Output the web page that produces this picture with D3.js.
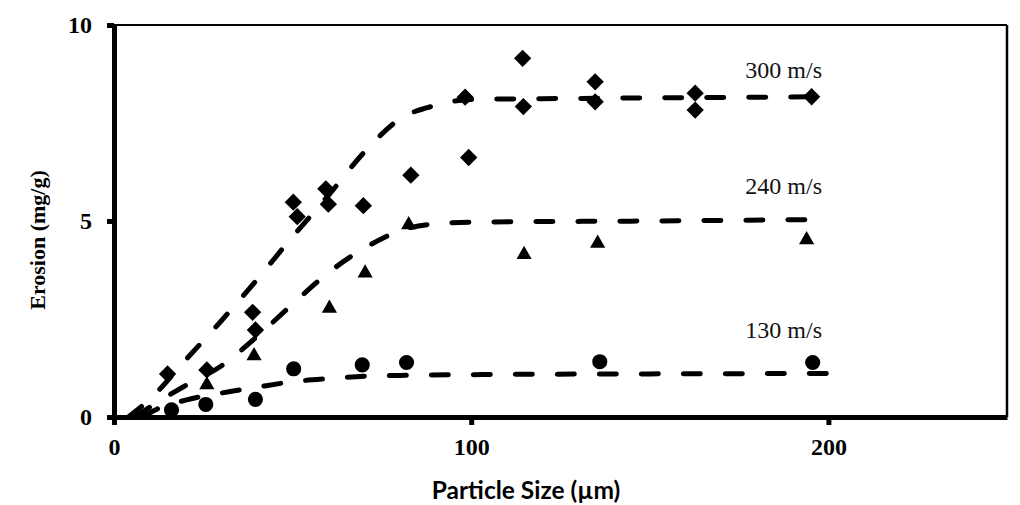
<!doctype html>
<html lang="en">
<head>
<meta charset="utf-8">
<title>Erosion vs particle size</title>
<script src="https://cdnjs.cloudflare.com/ajax/libs/d3/7.8.5/d3.min.js"></script>
<style>
  html, body { margin: 0; padding: 0; background: #fff; }
</style>
</head>
<body>
<div id="viz"></div>
<script>
// DATA - measured points, 300 m/s (diamonds)
var size300 = [15, 26, 38.8, 39.6, 50.2, 51.3, 59.3, 60, 69.8, 83.1, 98.3, 99.3, 114.4, 114.6, 134.7, 134.7, 162.7, 162.7, 195.3];
var erosion300 = [1.1, 1.2, 2.67, 2.22, 5.48, 5.11, 5.82, 5.43, 5.39, 6.17, 8.16, 6.62, 9.15, 7.92, 8.55, 8.04, 8.26, 7.83, 8.17];

// 240 m/s (triangles)
var size240 = [26, 39.2, 60.3, 70.3, 82.5, 114.8, 135.4, 193.9];
var erosion240 = [0.86, 1.6, 2.81, 3.71, 4.94, 4.18, 4.47, 4.56];

// 130 m/s (circles)
var size130 = [16.1, 25.7, 39.6, 50.3, 69.5, 81.9, 136, 195.6];
var erosion130 = [0.18, 0.32, 0.45, 1.23, 1.33, 1.39, 1.41, 1.39];

// dashed trend curves
var fitX300 = [4, 10, 20, 30, 40, 50, 60, 70, 80, 90, 100, 120, 150, 200];
var fitY300 = [0, 0.45, 1.45, 2.45, 3.5, 4.6, 5.65, 6.75, 7.6, 7.95, 8.1, 8.12, 8.14, 8.17];
var fitX240 = [6, 10, 20, 30, 40, 50, 60, 70, 80, 90, 100, 150, 200];
var fitY240 = [0, 0.25, 0.8, 1.3, 2.05, 2.88, 3.68, 4.3, 4.75, 4.93, 4.97, 5.0, 5.04];
var fitX130 = [8, 12, 20, 30, 40, 50, 60, 70, 80, 100, 150, 202];
var fitY130 = [0, 0.2, 0.43, 0.61, 0.76, 0.9, 0.98, 1.04, 1.06, 1.08, 1.1, 1.11];

var speedLabels = ["300 m/s", "240 m/s", "130 m/s"];
var labelY = [8.65, 5.69, 2.02];

var xTicks = [0, 100, 200];
var yTicks = [0, 5, 10];

// Dimensions
var w = 1020, h = 505;
var x = d3.scaleLinear().domain([0, 250]).range([114, 1007]);
var y = d3.scaleLinear().domain([0, 10]).range([417, 25]);
var serif = "'Liberation Serif', 'Times New Roman', serif";

function zip(a, b) { return a.map(function (v, i) { return [v, b[i]]; }); }

var svg = d3.select("#viz").append("svg")
  .attr("width", w)
  .attr("height", h)
  .style("display", "block")
  .style("background", "#fff");

// frame: thin top and right edges
svg.append("line")
  .attr("x1", x(0)).attr("x2", x(250))
  .attr("y1", y(10)).attr("y2", y(10))
  .attr("stroke", "#000").attr("stroke-width", 2);
svg.append("line")
  .attr("x1", x(250)).attr("x2", x(250))
  .attr("y1", y(10)).attr("y2", y(0))
  .attr("stroke", "#000").attr("stroke-width", 2.5);

// AXES
var xAxis = svg.append("g")
  .attr("transform", "translate(0," + y(0) + ")")
  .call(d3.axisBottom(x).tickValues(xTicks).tickSize(8).tickSizeOuter(0).tickPadding(13));
var yAxis = svg.append("g")
  .attr("transform", "translate(" + x(0) + ",0)")
  .call(d3.axisLeft(y).tickValues(yTicks).tickSize(7).tickSizeOuter(0).tickPadding(15));

[xAxis, yAxis].forEach(function (a) {
  a.attr("font-size", null).attr("font-family", null);
  a.select(".domain").attr("stroke", "#000").attr("stroke-width", 5);
  a.selectAll(".tick line").attr("stroke", "#000").attr("stroke-width", 5);
  a.selectAll(".tick text")
    .attr("font-family", serif)
    .attr("font-weight", "bold")
    .attr("font-size", 24)
    .attr("fill", "#000");
});
xAxis.selectAll(".tick text").attr("dy", "0.7em");
yAxis.selectAll(".tick text").attr("dy", "0.33em");

// axis titles
svg.append("text")
  .attr("transform", "translate(45,240) rotate(-90)")
  .attr("text-anchor", "middle")
  .style("font-family", serif)
  .style("font-weight", "bold")
  .style("font-size", "22px")
  .text("Erosion (mg/g)");

svg.append("text")
  .attr("x", 526)
  .attr("y", 499)
  .attr("text-anchor", "middle")
  .style("font-family", "Lato, 'Open Sans', sans-serif")
  .style("font-weight", "bold")
  .style("font-size", "24.5px")
  .text("Particle Size (\u00b5m)");

// DASHED CURVES
var line = d3.line()
  .x(function (d) { return x(d[0]); })
  .y(function (d) { return y(d[1]); })
  .curve(d3.curveMonotoneX);

[zip(fitX300, fitY300), zip(fitX240, fitY240), zip(fitX130, fitY130)].forEach(function (pts) {
  svg.append("path")
    .attr("d", line(pts))
    .attr("fill", "none")
    .attr("stroke", "#000")
    .attr("stroke-width", 5)
    .attr("stroke-linecap", "round")
    .attr("stroke-dasharray", "17,25");
});

// MARKERS
var diamond = d3.symbol().type(d3.symbolSquare).size(150);
var triangle = d3.symbol().type(d3.symbolTriangle).size(100);
var circle = d3.symbol().type(d3.symbolCircle).size(180);

svg.append("g").selectAll("path")
  .data(zip(size300, erosion300))
  .enter().append("path")
  .attr("d", diamond)
  .attr("transform", function (d) { return "translate(" + x(d[0]) + "," + y(d[1]) + ") rotate(45)"; })
  .attr("fill", "#000");

svg.append("g").selectAll("path")
  .data(zip(size240, erosion240))
  .enter().append("path")
  .attr("d", triangle)
  .attr("transform", function (d) { return "translate(" + x(d[0]) + "," + (y(d[1]) + 1.5) + ")"; })
  .attr("fill", "#000");

svg.append("g").selectAll("path")
  .data(zip(size130, erosion130))
  .enter().append("path")
  .attr("d", circle)
  .attr("transform", function (d) { return "translate(" + x(d[0]) + "," + y(d[1]) + ")"; })
  .attr("fill", "#000");

// speed labels
svg.append("g").selectAll("text")
  .data(speedLabels)
  .enter().append("text")
  .attr("x", 822)
  .attr("y", function (d, i) { return y(labelY[i]); })
  .attr("text-anchor", "end")
  .style("font-family", serif)
  .style("font-size", "24px")
  .attr("fill", "#111")
  .text(function (d) { return d; });
</script>
</body>
</html>
